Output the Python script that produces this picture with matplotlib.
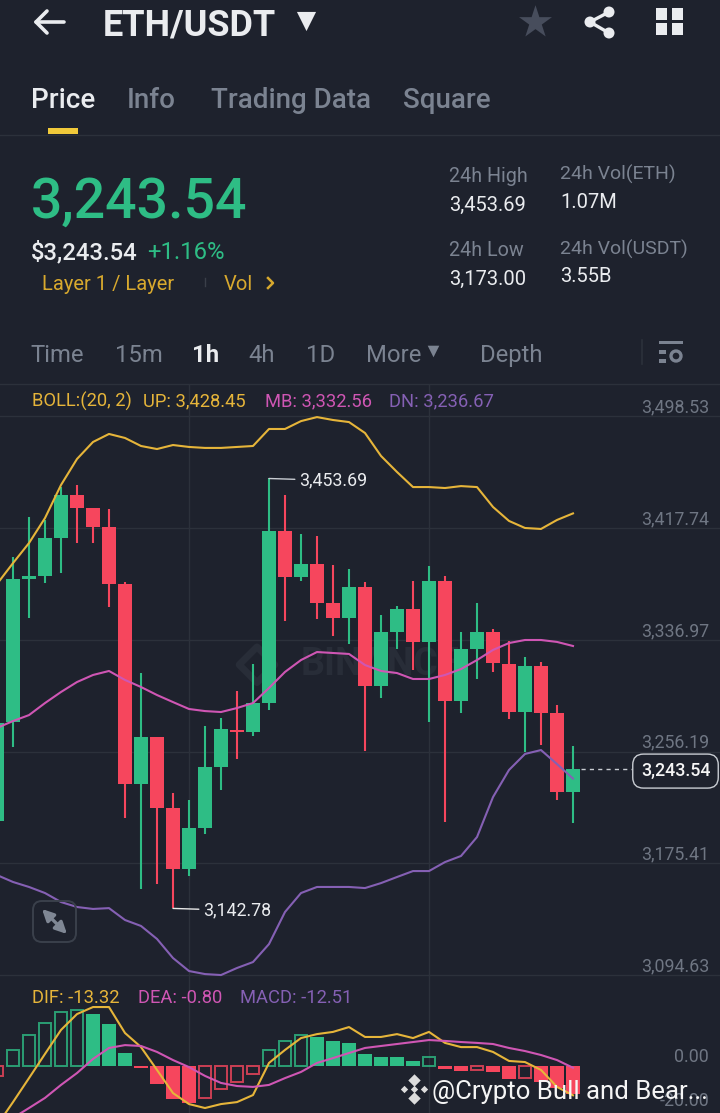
import numpy as np
import matplotlib
matplotlib.use("Agg")
import matplotlib.pyplot as plt
from matplotlib.patches import Circle, FancyBboxPatch, Rectangle
from matplotlib.transforms import blended_transform_factory

# candles, 1h ETH/USDT, first one is cut by the left edge
opens = [3206.0, 3277.6, 3381.0, 3383.2, 3410.7, 3441.8, 3432.4, 3418.6, 3377.4, 3232.8,
         3266.8, 3215.4, 3171.3, 3200.9, 3245.0, 3271.8, 3270.4, 3291.3, 3415.7, 3382.4,
         3391.8, 3363.6, 3352.8, 3375.2, 3303.6, 3342.7, 3359.3, 3335.5, 3379.5, 3292.8,
         3330.4, 3342.7, 3319.5, 3284.8, 3318.1, 3284.1, 3227.0]
highs = [3280.0, 3396.9, 3425.8, 3423.7, 3447.5, 3449.0, 3432.4, 3431.6, 3378.8, 3313.0,
         3266.8, 3226.2, 3221.2, 3274.7, 3280.5, 3300.0, 3319.5, 3453.69, 3441.8, 3413.5,
         3412.1, 3391.1, 3388.2, 3378.8, 3354.9, 3361.4, 3379.5, 3390.4, 3383.2, 3342.7,
         3363.6, 3344.8, 3336.2, 3324.6, 3321.0, 3289.9, 3260.2]
lows = [3206.0, 3259.5, 3352.8, 3378.1, 3385.3, 3407.0, 3407.0, 3360.7, 3208.2, 3156.8,
        3160.4, 3142.78, 3166.2, 3196.6, 3228.4, 3250.8, 3267.5, 3286.3, 3350.6, 3379.5,
        3352.1, 3339.8, 3334.0, 3256.6, 3295.0, 3330.4, 3315.2, 3277.6, 3205.3, 3284.1,
        3308.7, 3313.8, 3279.8, 3255.9, 3261.0, 3221.2, 3204.6]
closes = [3276.9, 3381.0, 3383.2, 3410.7, 3441.8, 3432.4, 3418.6, 3377.4, 3232.8, 3266.8,
          3215.4, 3171.3, 3200.9, 3245.0, 3272.5, 3270.4, 3291.3, 3415.7, 3382.4, 3391.8,
          3363.6, 3352.8, 3375.2, 3303.6, 3342.7, 3359.3, 3335.5, 3379.5, 3292.8, 3330.4,
          3342.7, 3320.3, 3284.8, 3318.1, 3284.1, 3227.0, 3243.54]

# bollinger bands
boll_up = [3377.4, 3392.5, 3407.0, 3425.1, 3449.0, 3467.8, 3480.1, 3485.9, 3483.0, 3477.2,
           3475.0, 3477.9, 3476.5, 3475.8, 3475.8, 3476.5, 3477.2, 3489.5, 3489.5, 3495.2,
           3498.1, 3496.0, 3494.5, 3486.6, 3470.0, 3458.4, 3447.5, 3447.5, 3446.8, 3448.2,
           3447.5, 3433.1, 3423.0, 3417.9, 3417.2, 3423.7, 3428.45]
boll_mb = [3273.3, 3278.3, 3282.6, 3291.3, 3299.3, 3306.5, 3311.6, 3314.5, 3308.0, 3302.9,
           3297.1, 3292.0, 3287.0, 3285.5, 3284.8, 3287.7, 3291.3, 3302.2, 3313.8, 3322.4,
           3328.2, 3327.5, 3326.8, 3318.8, 3314.5, 3313.0, 3308.7, 3308.7, 3311.6, 3315.9,
           3322.4, 3329.7, 3334.7, 3336.9, 3336.9, 3335.5, 3332.56]
boll_dn = [3166.9, 3161.9, 3158.3, 3153.9, 3147.4, 3143.8, 3142.4, 3143.0, 3134.4, 3130.1,
           3120.7, 3106.9, 3097.5, 3095.3, 3094.6, 3099.7, 3104.0, 3117.0, 3140.2, 3153.9,
           3158.3, 3158.3, 3158.3, 3157.5, 3161.1, 3165.5, 3169.8, 3169.8, 3176.3, 3180.7,
           3194.4, 3223.3, 3242.9, 3254.5, 3257.3, 3247.2, 3236.67]

# macd panel
macd_hist = [-4.4, 7.2, 14.1, 19.5, 24.5, 25.4, 23.6, 19.1, 5.9, -0.9,
             -8.2, -15.0, -16.8, -14.5, -10.5, -7.3, -3.6, 7.3, 11.4, 14.1,
             13.2, 11.4, 10.6, 5.5, 4.0, 3.9, 2.1, 3.9, -1.4, -2.1,
             -2.0, -2.9, -5.9, -5.6, -7.1, -10.2, -12.51]
dif = [-27.0, -16.4, -5.5, 5.5, 16.4, 23.6, 26.8, 26.8, 15.0, 8.6,
       -1.8, -12.3, -17.3, -19.1, -17.3, -16.4, -13.2, 1.4, 7.3, 12.7,
       14.5, 15.5, 17.7, 13.2, 13.2, 14.5, 12.7, 15.5, 10.5, 8.6,
       8.6, 6.4, 2.3, 1.8, -1.8, -9.5, -13.32]
dea = [-26.8, -23.6, -19.1, -14.5, -8.6, -3.2, 3.2, 8.2, 9.5, 9.1,
       6.4, 2.7, -0.5, -4.5, -7.7, -9.1, -9.5, -8.6, -5.5, -2.7,
       1.4, 3.6, 5.9, 8.2, 9.1, 10.0, 10.9, 11.8, 11.4, 10.9,
       10.5, 10.0, 8.2, 6.8, 5.0, 2.7, -0.80]

price_ticks = [3498.53, 3417.74, 3336.97, 3256.19, 3175.41, 3094.63]
macd_ticks = [0.0, -20.0]
last_price = 3243.54

BG = "#1e222d"
GRID = "#2c313b"
GREEN = "#2ebd85"
RED = "#f6465d"
YELLOW = "#e6b53a"
PINK = "#cf56b4"
PURPLE = "#8560b4"
WHITE = "#eaecef"
GREY = "#7b8391"
AXIS_GREY = "#6f7683"
GOLD = "#d8a92e"
FONT = "Roboto"

W, H = 720, 1113
plt.rcParams["font.family"] = [FONT, "DejaVu Sans"]

fig = plt.figure(figsize=(W / 100, H / 100), dpi=100, facecolor=BG)


def px_axes(top, bottom):
    ax = fig.add_axes([0, 1 - bottom / H, 1, (bottom - top) / H])
    ax.set_facecolor("none")
    ax.set_xlim(-13 / 16, (W - 13) / 16)
    for side in ax.spines.values():
        side.set_visible(False)
    ax.set_xticks([(189 - 13) / 16, (429 - 13) / 16])
    ax.set_xticklabels([])
    ax.tick_params(axis="x", length=0)
    ax.tick_params(axis="y", length=0, labelleft=False, labelright=True, pad=-8,
                   labelsize=12.8, labelcolor=AXIS_GREY)
    ax.grid(True, color=GRID, linewidth=1)
    ax.set_axisbelow(True)
    return ax


xs = np.arange(len(closes)) - 1

# price panel
ax = px_axes(384, 985)
ax.set_ylim(3087.40, 3522.03)
ax.set_yticks(price_ticks)
ax.set_yticklabels([f"{t:,.2f}" for t in price_ticks])
for lab in ax.get_yticklabels():
    lab.set_ha("right")
    lab.set_va("bottom")

ax.text(18.0, 3319, "BINANCE", fontsize=27, fontweight="bold", color="#282d38", va="center", zorder=0.5)
ax.scatter([15.25], [3319], marker="D", s=330, facecolor="none", edgecolor="#282d38", linewidth=5, zorder=0.5)

colors = [GREEN if c >= o else RED for o, c in zip(opens, closes)]
ax.vlines(xs, lows, highs, colors=colors, linewidth=1.5, zorder=2)
bottoms = [min(o, c) for o, c in zip(opens, closes)]
heights = [abs(c - o) for o, c in zip(opens, closes)]
ax.bar(xs, heights, width=14 / 16, bottom=bottoms, color=colors, linewidth=0, zorder=2.5)

ax.plot(xs, boll_up, color=YELLOW, linewidth=1.5, zorder=3)
ax.plot(xs, boll_mb, color=PINK, linewidth=1.5, zorder=3)
ax.plot(xs, boll_dn, color=PURPLE, linewidth=1.5, zorder=3)

# high / low labels
ax.annotate("3,453.69", xy=(xs[17], highs[17]), xytext=(30, 0), textcoords="offset pixels",
            color=WHITE, fontsize=12.8, va="center_baseline", zorder=4,
            arrowprops=dict(arrowstyle="-", color="#c8ccd2", linewidth=1, shrinkA=1, shrinkB=0))
ax.annotate("3,142.78", xy=(xs[11], lows[11]), xytext=(30, 0), textcoords="offset pixels",
            color=WHITE, fontsize=12.8, va="center_baseline", zorder=4,
            arrowprops=dict(arrowstyle="-", color="#e8e8e8", linewidth=1, shrinkA=1, shrinkB=0))

# last price tag
ax.plot([xs[-1] + 0.5, (632 - 13) / 16], [last_price, last_price], color="#c8ccd2",
        linewidth=1, dashes=(3, 3), zorder=3)
tag = blended_transform_factory(ax.transAxes, ax.transData)
ax.text(675.5 / W, last_price, f"{last_price:,.2f}", transform=tag, color="#f5f5f5", fontsize=12.8,
        fontweight="medium", ha="center", va="center_baseline", zorder=5,
        bbox=dict(boxstyle="round,pad=0.45,rounding_size=0.6", facecolor=BG, edgecolor="#c8ccd2", linewidth=1))

# macd panel
ax2 = px_axes(985, H)
ax2.set_ylim(-21.36, 36.82)
ax2.set_yticks(macd_ticks)
ax2.set_yticklabels([f"{t:.2f}" for t in macd_ticks])
for lab in ax2.get_yticklabels():
    lab.set_ha("right")
    lab.set_va("bottom")
ax2.yaxis.grid(False)

for i, (x, v) in enumerate(zip(xs, macd_hist)):
    col = GREEN if v >= 0 else RED
    rising = i == 0 or v > macd_hist[i - 1]
    if rising:
        ax2.bar(x, v, width=12.5 / 16, facecolor="none", edgecolor=col, linewidth=1.4, alpha=0.8, zorder=2)
    else:
        ax2.bar(x, v, width=14 / 16, color=col, linewidth=0, zorder=2)
ax2.plot(xs, dif, color=YELLOW, linewidth=1.5, zorder=3)
ax2.plot(xs, dea, color=PINK, linewidth=1.5, zorder=3)

# everything around the chart, in screen pixels
ui = fig.add_axes([0, 0, 1, 1], zorder=10)
ui.set_xlim(0, W)
ui.set_ylim(H, 0)
ui.axis("off")


def label(x, y, s, size, color=WHITE, weight="normal", ha="left", family=None):
    ui.text(x, y, s, fontsize=size, color=color, fontweight=weight, ha=ha, va="center_baseline",
            family=family or [FONT, "DejaVu Sans"])


# header
ui.plot([36, 64], [22, 22], color=WHITE, linewidth=2.6, solid_capstyle="round")
ui.plot([47, 36, 47], [11, 22, 33], color=WHITE, linewidth=2.6, solid_capstyle="round", solid_joinstyle="round")
label(103, 22, "ETH/USDT", 26, weight="bold")
ui.scatter([306], [21], marker="v", s=190, color=WHITE, linewidth=0)
ui.scatter([535], [22], marker="*", s=620, color="#474d5c", linewidth=0)
for cx, cy in [(609, 12), (590, 22), (609, 33)]:
    ui.add_patch(Circle((cx, cy), 5.5, color=WHITE, linewidth=0))
ui.plot([609, 590, 609], [12, 22, 33], color=WHITE, linewidth=2.4)
for sx in [656, 672]:
    for sy in [8, 23]:
        ui.add_patch(Rectangle((sx, sy), 11, 12, color=WHITE, linewidth=0))

# tabs
label(31, 98, "Price", 20, weight="medium")
label(127, 98, "Info", 20, color=GREY, weight="medium")
label(211, 98, "Trading Data", 20, color=GREY, weight="medium")
label(403, 98, "Square", 20, color=GREY, weight="medium")
ui.add_patch(Rectangle((48, 128), 30, 6, color="#f0c93a", linewidth=0))
ui.plot([0, W], [134.5, 134.5], color=GRID, linewidth=1)

# price block
label(31, 197, "3,243.54", 40, color=GREEN, weight="medium")
label(31, 250, "$3,243.54", 17.2, weight="medium")
label(147, 250, "+1.16%", 17.2, color=GREEN)
label(42, 282, "Layer 1 / Layer", 14.5, color=GOLD)
ui.plot([205, 205], [278, 286], color="#3a3f49", linewidth=1)
label(224, 282, "Vol", 14.5, color=GOLD)
ui.plot([268, 273, 268], [278, 283, 288], color=GOLD, linewidth=1.8)

label(449, 175, "24h High", 14.2, color=GREY)
label(449, 203, "3,453.69", 14.5)
label(449, 249, "24h Low", 14.2, color=GREY)
label(449, 277, "3,173.00", 14.5)
label(560, 172, "24h Vol(ETH)", 14, color=GREY)
label(560, 201, "1.07M", 14.5)
label(560, 247, "24h Vol(USDT)", 14, color=GREY)
label(560, 275, "3.55B", 14.5)

# interval bar
label(30, 353, "Time", 17.2, color=GREY)
label(115, 353, "15m", 17.2, color=GREY)
label(192, 353, "1h", 17.2, weight="bold")
label(248, 353, "4h", 17.2, color=GREY)
label(306, 353, "1D", 17.2, color=GREY)
label(366, 353, "More", 17.2, color=GREY)
ui.scatter([433], [351], marker="v", s=70, color=GREY, linewidth=0)
label(480, 353, "Depth", 17.2, color=GREY)
ui.plot([642, 642], [340, 364], color=GRID, linewidth=1.2)
ui.add_patch(Rectangle((659, 341), 24, 3, color=GREY, linewidth=0))
ui.add_patch(Rectangle((659, 350), 7, 4, color=GREY, linewidth=0))
ui.add_patch(Rectangle((659, 359), 7, 4, color=GREY, linewidth=0))
ui.add_patch(Circle((676, 356), 5, facecolor="none", edgecolor=GREY, linewidth=2.4))
ui.plot([0, W], [383.5, 383.5], color=GRID, linewidth=1)

# indicator legends
label(32, 399, "BOLL:(20, 2)", 13.2, color=YELLOW)
label(143, 399, "UP: 3,428.45", 13.2, color=YELLOW)
label(265, 399, "MB: 3,332.56", 13.2, color=PINK)
label(389, 399, "DN: 3,236.67", 13.2, color=PURPLE)
label(32, 996, "DIF: -13.32", 13.2, color=YELLOW)
label(138, 996, "DEA: -0.80", 13.2, color=PINK)
label(240, 996, "MACD: -12.51", 13.2, color=PURPLE)

# expand button
ui.add_patch(FancyBboxPatch((33, 901), 43, 41, boxstyle="round,pad=0,rounding_size=9",
                            facecolor="none", edgecolor="#3a404b", linewidth=1.4))
ui.annotate("", xy=(42, 909), xytext=(67, 934),
            arrowprops=dict(arrowstyle="<|-|>", color="#7f8794", linewidth=2.4, shrinkA=0, shrinkB=0, mutation_scale=17))

# share watermark
for dx, dy, size in [(0, -9, 40), (-10, 0, 14), (0, 0, 14), (10, 0, 14), (0, 9, 40)]:
    ui.scatter([414 + dx], [1089 + dy], marker="D", s=size, color="#dcdcdc", linewidth=0)
label(432, 1089, "@Crypto Bull and Bear...", 18.5, color="#f5f5f5")

fig.savefig("out.png", dpi=100, facecolor=BG)
